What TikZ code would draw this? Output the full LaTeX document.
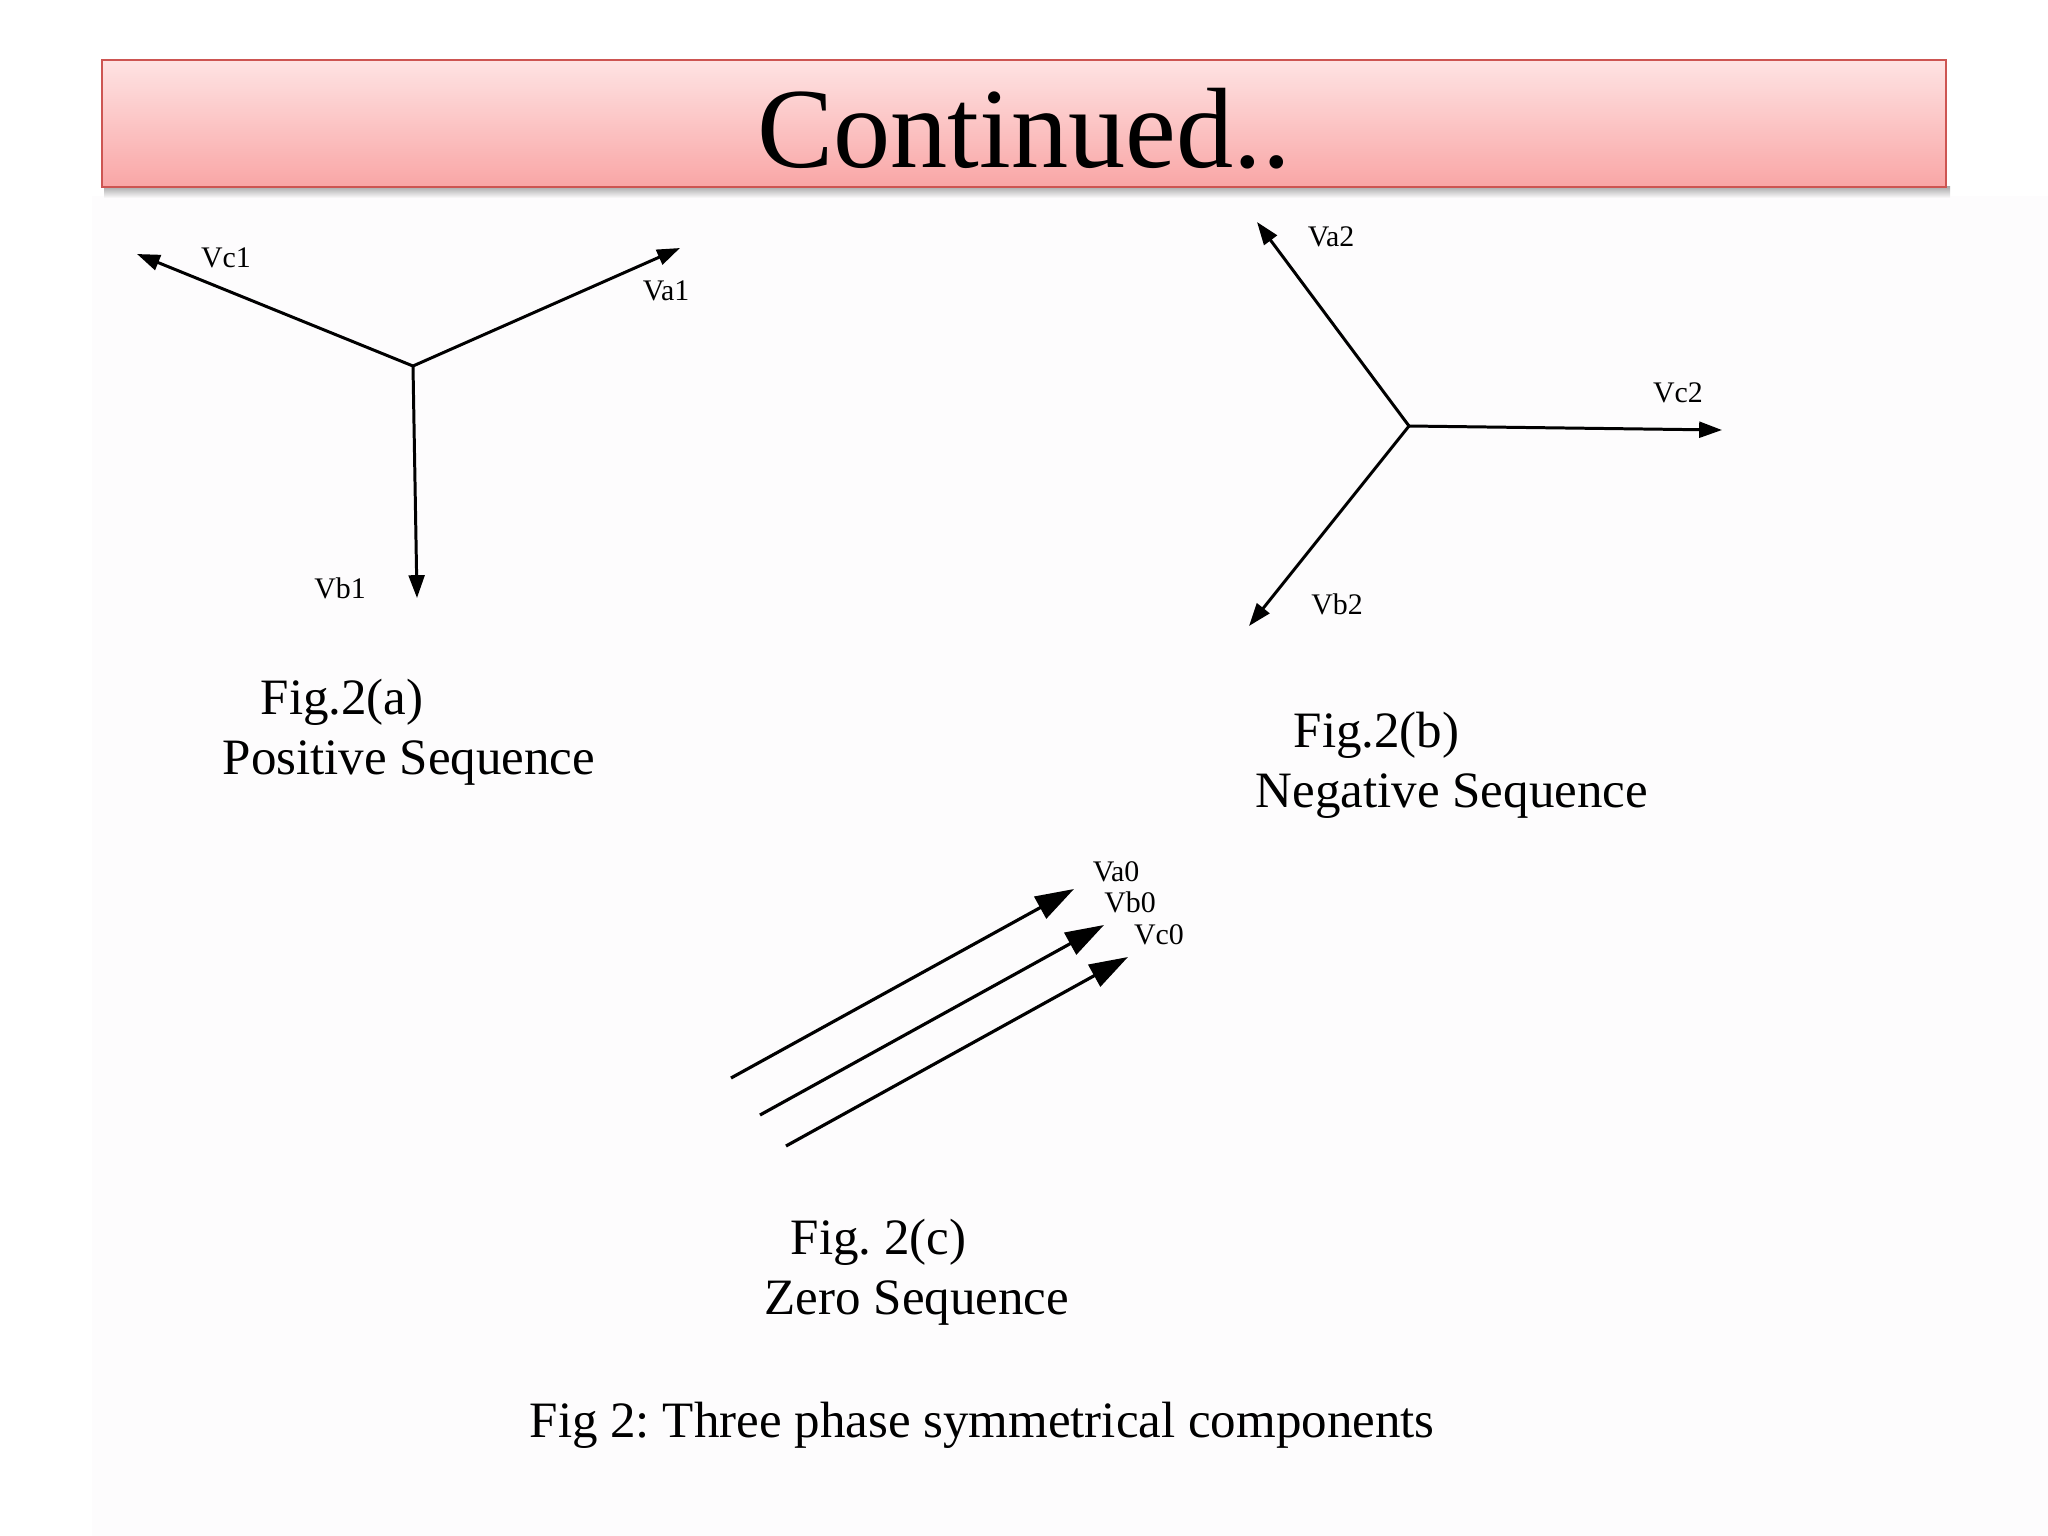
\documentclass[tikz,border=0pt]{standalone}
\usepackage{fontspec}
\setmainfont{Liberation Serif}
\frenchspacing
\usetikzlibrary{arrows.meta}
\definecolor{pagegray}{RGB}{253,252,253}
\definecolor{bartop}{RGB}{254,227,227}
\definecolor{barbot}{RGB}{249,166,166}
\definecolor{barline}{RGB}{205,85,82}
\begin{document}
\begin{tikzpicture}[x=0.01cm,y=-0.01cm,
  phasor/.style={line width=0.85pt, -{Triangle[length=6.5pt,width=4.5pt]}},
  zerophasor/.style={line width=0.9pt, -{Triangle[length=11pt,width=7pt]}},
  vlabel/.style={font=\fontsize{8.5}{10}\selectfont, inner sep=0pt},
  caption/.style={font=\fontsize{14.5}{17}\selectfont, anchor=base west, inner sep=0pt}]
\useasboundingbox (0,0) rectangle (2048,1536);
\fill[white] (0,0) rectangle (2048,1536);
\fill[pagegray] (92,196) rectangle (2048,1536);
% title bar with shadow
\shade[top color=black!35, bottom color=pagegray] (104,186) rectangle (1950,198);
\shade[top color=bartop, bottom color=barbot, draw=barline, line width=0.5pt] (102,60) rectangle (1946,187);
\node[anchor=base, inner sep=0pt, font=\fontsize{32.5}{38}\selectfont] (title) at (1024,167) {Continued..};

% Fig 2(a) positive sequence
\coordinate (o1) at (413,366);
\coordinate (a1) at (680,248);
\coordinate (b1) at (417,598);
\coordinate (c1) at (137,254);
\draw[phasor] (o1) -- (a1);
\draw[phasor] (o1) -- (b1);
\draw[phasor] (o1) -- (c1);
\node[vlabel] (la1) at (666,291) {Va1};
\node[vlabel] (lb1) at (340,588) {Vb1};
\node[vlabel] (lc1) at (226,258) {Vc1};
\node[caption] (fa) at (260,714) {Fig.2(a)};
\node[caption] (fa2) at (222,774) {Positive Sequence};

% Fig 2(b) negative sequence
\coordinate (o2) at (1409,426);
\coordinate (a2) at (1257,222);
\coordinate (b2) at (1249,626);
\coordinate (c2) at (1722,430);
\draw[phasor] (o2) -- (a2);
\draw[phasor] (o2) -- (b2);
\draw[phasor] (o2) -- (c2);
\node[vlabel] (la2) at (1331,237) {Va2};
\node[vlabel] (lb2) at (1337,604) {Vb2};
\node[vlabel] (lc2) at (1678,393) {Vc2};
\node[caption] (fb) at (1293,747) {Fig.2(b)};
\node[caption] (fb2) at (1255,807) {Negative Sequence};

% Fig 2(c) zero sequence
\coordinate (sa0) at (731,1078);
\coordinate (ta0) at (1074,889);
\coordinate (sb0) at (760,1115);
\coordinate (tb0) at (1104,925);
\coordinate (sc0) at (786,1146);
\coordinate (tc0) at (1128,957);
\draw[zerophasor] (sa0) -- (ta0);
\draw[zerophasor] (sb0) -- (tb0);
\draw[zerophasor] (sc0) -- (tc0);
\node[vlabel] (la0) at (1116,872) {Va0};
\node[vlabel] (lb0) at (1130,902) {Vb0};
\node[vlabel] (lc0) at (1159,935) {Vc0};
\node[caption] (fc) at (790,1254) {Fig. 2(c)};
\node[caption] (fc2) at (764,1314) {Zero Sequence};

% overall caption
\node[caption] (cap) at (529,1437) {Fig 2: Three phase symmetrical components};
\end{tikzpicture}
\end{document}
